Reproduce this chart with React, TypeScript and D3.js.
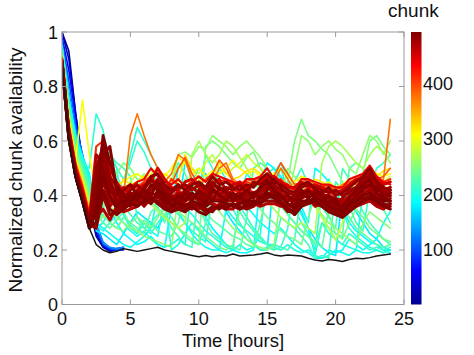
import React from "react";
import * as d3 from "d3";

// ---------- data ----------
const HOURS = [0,0.5,1,1.5,2,2.5,3,3.5,4,4.5,5,5.5,6,6.5,7,7.5,8,8.5,9,9.5,10,10.5,11,11.5,12,12.5,13,13.5,14,14.5,15,15.5,16,16.5,17,17.5,18,18.5,19,19.5,20,20.5,21,21.5,22,22.5,23,23.5,24];

const X_TICKS = [0, 5, 10, 15, 20, 25];
const Y_TICKS = [0, 0.2, 0.4, 0.6, 0.8, 1];
const Y_TICK_LABELS = ["0", "0.2", "0.4", "0.6", "0.8", "1"];
const CBAR_TICKS = [100, 200, 300, 400];
const CBAR_DOMAIN = [1, 492];

// early-only blue chunks (t = 0 .. 4.5)
const chunk5 = [1.0,0.93,0.7,0.5,0.36,0.25,0.21,0.195,0.2,0.205];
const chunk30 = [1.0,0.9,0.7,0.53,0.38,0.26,0.215,0.2,0.205,0.21];
const chunk60 = [0.98,0.86,0.68,0.54,0.4,0.27,0.22,0.2,0.2,0.2];
const chunk100 = [0.97,0.82,0.66,0.55,0.42,0.28,0.22,0.205,0.2,0.205];
const chunk130 = [0.96,0.78,0.64,0.55,0.44,0.3,0.23,0.21,0.205,0.21];

// full chunks (t = 0 .. 24)
const chunk175 = [0.95,0.76,0.62,0.545,0.48, 0.27,0.26,0.24,0.22,0.26,0.3,0.34,0.32,0.3,0.28, 0.33,0.34,0.36,0.52,0.5,0.46,0.48,0.42,0.38,0.34, 0.3,0.27,0.24,0.22,0.2,0.2,0.48,0.52,0.46,0.4, 0.34,0.28,0.24,0.21,0.19,0.18,0.4,0.38,0.34,0.3, 0.26,0.24,0.21,0.2];
const chunk185 = [0.95,0.755,0.615,0.54,0.48, 0.28,0.3,0.35,0.3,0.26,0.24,0.22,0.23,0.25,0.22, 0.21,0.36,0.5,0.53,0.45,0.38,0.32,0.28,0.25,0.22, 0.2,0.19,0.19,0.2,0.45,0.52,0.5,0.47,0.44,0.4, 0.36,0.3,0.5,0.48,0.45,0.42,0.36,0.3,0.27,0.25, 0.23,0.22,0.2,0.19];
const chunk190 = [0.945,0.75,0.61,0.535,0.47, 0.3,0.28,0.26,0.24,0.22,0.21,0.23,0.25,0.28,0.4, 0.42,0.38,0.34,0.3,0.26,0.23,0.21,0.2,0.2,0.35, 0.44,0.4,0.36,0.33,0.3,0.28,0.26,0.28,0.25,0.22, 0.2,0.19,0.17,0.17,0.2,0.19,0.2,0.24,0.22,0.2, 0.22,0.24,0.3,0.34];
const chunk195 = [0.945,0.745,0.605,0.53,0.47, 0.3,0.38,0.55,0.5,0.33,0.28,0.26,0.3,0.27,0.25, 0.4,0.2,0.22,0.26,0.3,0.27,0.24,0.22,0.2,0.19, 0.2,0.22,0.2,0.21,0.26,0.48,0.5,0.46,0.4,0.38, 0.33,0.28,0.18,0.17,0.18,0.2,0.19,0.18,0.2,0.19, 0.19,0.2,0.19,0.2];
const chunk200 = [0.94,0.74,0.6,0.525,0.46, 0.29,0.27,0.3,0.33,0.3,0.27,0.25,0.27,0.24,0.22, 0.21,0.22,0.24,0.22,0.45,0.5,0.47,0.42,0.38,0.35, 0.32,0.29,0.27,0.25,0.23,0.22,0.21,0.2,0.22,0.2, 0.19,0.2,0.18,0.3,0.26,0.24,0.22,0.21,0.2,0.42, 0.47,0.44,0.4,0.36];
const chunk205 = [0.94,0.735,0.595,0.52,0.5, 0.7,0.64,0.52,0.47,0.42,0.55,0.65,0.6,0.55,0.5, 0.45,0.42,0.4,0.36,0.33,0.3,0.27,0.25,0.23,0.21, 0.2,0.4,0.48,0.45,0.42,0.4,0.45,0.5,0.42,0.35, 0.3,0.26,0.2,0.42,0.46,0.4,0.35,0.28,0.25,0.23, 0.21,0.2,0.19,0.2];
const chunk210 = [0.935,0.73,0.59,0.515,0.45, 0.29,0.52,0.56,0.5,0.46,0.52,0.6,0.56,0.5,0.44, 0.4,0.36,0.33,0.3,0.27,0.25,0.23,0.4,0.5,0.46, 0.4,0.36,0.32,0.28,0.25,0.22,0.22,0.21,0.28,0.45, 0.5,0.44,0.38,0.32,0.28,0.24,0.22,0.26,0.24,0.22, 0.2,0.21,0.2,0.21];
const chunk215 = [0.935,0.725,0.585,0.51,0.44, 0.32,0.45,0.55,0.52,0.5,0.47,0.32,0.28,0.26,0.3, 0.33,0.28,0.25,0.22,0.21,0.42,0.55,0.5,0.45,0.4, 0.35,0.3,0.26,0.22,0.2,0.21,0.2,0.32,0.3,0.28, 0.25,0.22,0.17,0.18,0.17,0.45,0.42,0.36,0.3,0.27, 0.42,0.5,0.52,0.55];
const chunk220 = [0.93,0.72,0.58,0.505,0.43, 0.31,0.34,0.52,0.48,0.36,0.33,0.3,0.28,0.3,0.33, 0.35,0.32,0.28,0.25,0.23,0.22,0.3,0.47,0.44,0.41, 0.38,0.34,0.3,0.27,0.24,0.22,0.2,0.21,0.2,0.24, 0.4,0.43,0.4,0.36,0.32,0.28,0.5,0.46,0.4,0.34, 0.3,0.27,0.24,0.22];
const chunk225 = [0.93,0.715,0.575,0.5,0.42, 0.3,0.33,0.3,0.28,0.32,0.3,0.28,0.26,0.34,0.36, 0.3,0.45,0.52,0.48,0.42,0.36,0.3,0.26,0.24,0.22, 0.21,0.2,0.32,0.5,0.52,0.5,0.45,0.38,0.33,0.3, 0.27,0.25,0.22,0.3,0.28,0.26,0.25,0.5,0.52,0.5, 0.45,0.4,0.35,0.3];
const chunk230 = [0.925,0.71,0.57,0.495,0.41, 0.33,0.3,0.28,0.31,0.34,0.29,0.27,0.31,0.29,0.27, 0.26,0.25,0.3,0.42,0.4,0.37,0.34,0.31,0.29,0.27, 0.25,0.24,0.22,0.21,0.3,0.42,0.39,0.36,0.33,0.3, 0.27,0.25,0.23,0.21,0.35,0.38,0.35,0.32,0.28,0.26, 0.24,0.22,0.21,0.22];
const chunk240 = [0.925,0.705,0.565,0.49,0.4, 0.31,0.33,0.3,0.28,0.27,0.3,0.32,0.3,0.28,0.32, 0.36,0.38,0.34,0.32,0.3,0.28,0.25,0.23,0.21,0.2, 0.22,0.35,0.4,0.38,0.35,0.32,0.3,0.27,0.25,0.24, 0.22,0.32,0.4,0.38,0.33,0.26,0.24,0.3,0.35,0.32, 0.28,0.26,0.24,0.23];
const chunk245 = [0.92,0.7,0.56,0.485,0.395, 0.32,0.36,0.42,0.48,0.52,0.5,0.46,0.42,0.38,0.35, 0.33,0.3,0.28,0.26,0.24,0.22,0.58,0.6,0.58,0.55, 0.52,0.5,0.54,0.56,0.5,0.45,0.42,0.4,0.45,0.6, 0.68,0.62,0.6,0.57,0.55,0.5,0.45,0.4,0.36,0.48, 0.6,0.62,0.58,0.55];
const chunk250 = [0.92,0.7,0.555,0.48,0.39, 0.3,0.32,0.34,0.32,0.3,0.28,0.27,0.25,0.24,0.23, 0.22,0.21,0.4,0.46,0.44,0.42,0.4,0.37,0.34,0.31, 0.28,0.26,0.24,0.22,0.21,0.2,0.22,0.4,0.5,0.47, 0.44,0.4,0.36,0.33,0.3,0.28,0.26,0.24,0.22,0.3, 0.34,0.32,0.3,0.28];
const chunk255 = [0.92,0.695,0.55,0.475,0.385, 0.33,0.4,0.45,0.4,0.38,0.42,0.45,0.48,0.44,0.4, 0.37,0.45,0.55,0.56,0.54,0.58,0.57,0.62,0.6,0.58, 0.55,0.58,0.6,0.57,0.54,0.5,0.47,0.44,0.4,0.5, 0.62,0.6,0.55,0.58,0.6,0.57,0.55,0.5,0.48,0.55, 0.62,0.6,0.55,0.6];
const chunk265 = [0.915,0.69,0.545,0.47,0.38, 0.34,0.38,0.36,0.34,0.36,0.38,0.42,0.4,0.37,0.34, 0.32,0.3,0.28,0.3,0.55,0.6,0.55,0.52,0.55,0.6, 0.58,0.54,0.5,0.46,0.42,0.38,0.35,0.32,0.3,0.28, 0.3,0.28,0.26,0.52,0.58,0.6,0.58,0.55,0.52,0.5, 0.55,0.58,0.56,0.52];
const chunk280 = [0.915,0.685,0.54,0.465,0.37, 0.35,0.42,0.46,0.44,0.42,0.45,0.48,0.46,0.44,0.42, 0.45,0.48,0.5,0.52,0.5,0.48,0.52,0.55,0.5,0.48, 0.5,0.52,0.55,0.52,0.5,0.48,0.46,0.44,0.42,0.45, 0.47,0.44,0.38,0.32,0.28,0.235,0.3,0.42,0.45,0.48, 0.46,0.44,0.45,0.47];
const chunk305 = [0.91,0.68,0.535,0.75,0.55, 0.4,0.45,0.46,0.44,0.45,0.47,0.48,0.46,0.48,0.5, 0.47,0.5,0.54,0.52,0.48,0.5,0.47,0.49,0.48,0.5, 0.53,0.5,0.48,0.49,0.47,0.46,0.48,0.5,0.47,0.45, 0.47,0.46,0.45,0.44,0.45,0.43,0.44,0.46,0.47,0.48, 0.5,0.48,0.47,0.48];
const chunk320 = [0.91,0.675,0.53,0.455,0.35, 0.38,0.42,0.44,0.42,0.46,0.44,0.45,0.47,0.45,0.46, 0.48,0.46,0.45,0.55,0.5,0.46,0.45,0.47,0.52,0.48, 0.46,0.47,0.49,0.5,0.48,0.45,0.44,0.46,0.44,0.43, 0.45,0.44,0.46,0.45,0.43,0.42,0.44,0.45,0.46,0.47, 0.48,0.47,0.49,0.5];
const chunk375 = [0.905,0.665,0.52,0.44,0.34, 0.5,0.55,0.48,0.42,0.4,0.62,0.7,0.62,0.55,0.5, 0.45,0.48,0.55,0.53,0.46,0.44,0.43,0.45,0.5,0.52, 0.46,0.44,0.43,0.45,0.44,0.46,0.45,0.5,0.46,0.42, 0.44,0.43,0.42,0.44,0.43,0.42,0.44,0.45,0.44,0.46, 0.45,0.44,0.46,0.68];
const chunk390 = [0.905,0.66,0.515,0.435,0.335, 0.55,0.5,0.44,0.42,0.43,0.44,0.42,0.44,0.46,0.44, 0.42,0.44,0.5,0.54,0.48,0.44,0.46,0.48,0.53,0.5, 0.45,0.44,0.46,0.45,0.47,0.45,0.47,0.52,0.48,0.44, 0.45,0.46,0.44,0.43,0.44,0.42,0.43,0.45,0.46,0.48, 0.47,0.46,0.47,0.5];
const chunk410 = [0.9,0.655,0.51,0.43,0.33, 0.58,0.6,0.5,0.45,0.42,0.44,0.43,0.45,0.47,0.44, 0.42,0.46,0.44,0.42,0.44,0.45,0.43,0.47,0.45,0.46, 0.44,0.43,0.45,0.44,0.46,0.48,0.44,0.46,0.43,0.42, 0.44,0.45,0.43,0.42,0.41,0.4,0.42,0.44,0.46,0.47, 0.46,0.44,0.45,0.46];
const chunk425 = [0.9,0.65,0.505,0.425,0.325, 0.5,0.56,0.46,0.4,0.38,0.4,0.42,0.4,0.43,0.45, 0.41,0.39,0.42,0.4,0.43,0.41,0.39,0.44,0.42,0.4, 0.42,0.41,0.43,0.41,0.42,0.44,0.43,0.41,0.39,0.38, 0.41,0.43,0.41,0.4,0.39,0.38,0.38,0.4,0.42,0.44, 0.47,0.43,0.42,0.43];
const chunk440 = [0.9,0.645,0.5,0.42,0.32, 0.36,0.53,0.49,0.45,0.41,0.43,0.45,0.46,0.5,0.47, 0.45,0.44,0.46,0.43,0.45,0.47,0.45,0.48,0.47,0.46, 0.45,0.43,0.46,0.46,0.47,0.5,0.46,0.45,0.44,0.42, 0.46,0.46,0.45,0.44,0.44,0.43,0.43,0.46,0.47,0.48, 0.51,0.47,0.45,0.44];
const chunk452 = [0.9,0.64,0.495,0.415,0.31, 0.42,0.57,0.44,0.41,0.43,0.4,0.42,0.44,0.45,0.5, 0.46,0.43,0.42,0.45,0.46,0.43,0.41,0.44,0.46,0.42, 0.44,0.45,0.43,0.44,0.45,0.47,0.47,0.45,0.43,0.43, 0.45,0.43,0.44,0.43,0.42,0.41,0.42,0.44,0.46,0.45, 0.49,0.46,0.44,0.45];
const chunk462 = [0.895,0.635,0.49,0.41,0.31, 0.38,0.48,0.36,0.39,0.38,0.39,0.4,0.37,0.4,0.37, 0.4,0.4,0.38,0.38,0.39,0.4,0.38,0.4,0.39,0.38, 0.38,0.39,0.38,0.4,0.39,0.4,0.42,0.41,0.39,0.38, 0.4,0.41,0.39,0.4,0.4,0.39,0.38,0.39,0.41,0.4, 0.43,0.39,0.4,0.41];
const chunk466 = [0.895,0.632,0.49,0.405,0.305, 0.32,0.35,0.31,0.36,0.34,0.35,0.36,0.39,0.37,0.41, 0.38,0.36,0.39,0.37,0.36,0.35,0.37,0.37,0.36,0.35, 0.35,0.38,0.36,0.37,0.36,0.37,0.37,0.36,0.36,0.33, 0.36,0.39,0.36,0.37,0.38,0.37,0.32,0.35,0.36,0.37, 0.38,0.36,0.35,0.37];
const chunk470 = [0.895,0.63,0.487,0.4,0.3, 0.55,0.52,0.42,0.38,0.4,0.41,0.37,0.4,0.42,0.43, 0.4,0.38,0.41,0.4,0.43,0.41,0.39,0.41,0.41,0.39, 0.4,0.41,0.4,0.39,0.41,0.43,0.41,0.39,0.38,0.39, 0.41,0.42,0.4,0.41,0.39,0.38,0.37,0.4,0.41,0.43, 0.45,0.42,0.41,0.4];
const chunk474 = [0.89,0.63,0.485,0.4,0.3, 0.33,0.45,0.38,0.37,0.35,0.37,0.39,0.36,0.39,0.39, 0.39,0.37,0.35,0.39,0.4,0.38,0.36,0.39,0.38,0.4, 0.39,0.37,0.39,0.37,0.4,0.41,0.39,0.38,0.36,0.37, 0.39,0.4,0.41,0.39,0.38,0.36,0.35,0.38,0.39,0.41, 0.42,0.4,0.38,0.39];
const chunk476 = [0.89,0.625,0.482,0.395,0.3, 0.48,0.55,0.43,0.38,0.41,0.39,0.42,0.4,0.43,0.44, 0.42,0.4,0.39,0.42,0.4,0.39,0.41,0.43,0.4,0.42, 0.4,0.38,0.4,0.41,0.42,0.44,0.43,0.4,0.38,0.4, 0.42,0.4,0.42,0.4,0.39,0.37,0.39,0.42,0.43,0.45, 0.47,0.45,0.41,0.42];
const chunk478 = [0.89,0.625,0.48,0.395,0.295, 0.4,0.6,0.47,0.43,0.39,0.42,0.44,0.41,0.43,0.46, 0.43,0.41,0.43,0.44,0.42,0.44,0.42,0.45,0.42,0.43, 0.42,0.44,0.41,0.45,0.44,0.46,0.44,0.42,0.41,0.4, 0.43,0.44,0.43,0.42,0.41,0.42,0.4,0.41,0.43,0.46, 0.48,0.44,0.42,0.43];
const chunk481 = [0.89,0.62,0.48,0.392,0.295, 0.28,0.4,0.33,0.34,0.37,0.36,0.38,0.37,0.38,0.38, 0.36,0.35,0.38,0.36,0.35,0.37,0.35,0.34,0.37,0.36, 0.37,0.36,0.35,0.36,0.38,0.38,0.38,0.37,0.34,0.35, 0.38,0.37,0.38,0.37,0.36,0.35,0.33,0.35,0.37,0.38, 0.39,0.37,0.36,0.37];
const chunk483 = [0.885,0.62,0.478,0.39,0.29, 0.4,0.58,0.45,0.37,0.39,0.41,0.39,0.42,0.46,0.43, 0.39,0.38,0.4,0.39,0.39,0.41,0.38,0.44,0.43,0.41, 0.39,0.4,0.42,0.39,0.43,0.46,0.41,0.39,0.4,0.36, 0.39,0.41,0.4,0.38,0.37,0.36,0.35,0.37,0.4,0.43, 0.44,0.41,0.39,0.4];
const chunk484 = [0.885,0.62,0.475,0.39,0.29, 0.5,0.58,0.45,0.4,0.42,0.44,0.4,0.43,0.47,0.48, 0.44,0.42,0.44,0.42,0.44,0.45,0.43,0.47,0.44,0.45, 0.43,0.42,0.44,0.43,0.46,0.48,0.45,0.44,0.42,0.41, 0.44,0.45,0.42,0.41,0.43,0.4,0.41,0.43,0.45,0.47, 0.5,0.45,0.43,0.42];
const chunk486 = [0.885,0.615,0.475,0.385,0.29, 0.45,0.5,0.4,0.35,0.36,0.38,0.36,0.38,0.41,0.4, 0.37,0.34,0.36,0.35,0.37,0.36,0.34,0.36,0.35,0.37, 0.36,0.35,0.37,0.38,0.37,0.39,0.4,0.38,0.35,0.34, 0.37,0.38,0.37,0.36,0.35,0.34,0.33,0.36,0.38,0.39, 0.4,0.38,0.37,0.36];
const chunk488 = [0.885,0.615,0.472,0.385,0.285, 0.3,0.55,0.58,0.42,0.37,0.4,0.38,0.42,0.4,0.45, 0.41,0.39,0.37,0.41,0.38,0.42,0.4,0.38,0.43,0.41, 0.38,0.4,0.37,0.41,0.39,0.42,0.46,0.43,0.4,0.38, 0.42,0.39,0.41,0.4,0.37,0.39,0.34,0.37,0.4,0.42, 0.44,0.43,0.4,0.41];
const chunk490 = [0.88,0.61,0.47,0.38,0.285, 0.35,0.62,0.52,0.44,0.4,0.38,0.41,0.39,0.44,0.42, 0.38,0.36,0.4,0.38,0.41,0.39,0.37,0.42,0.4,0.38, 0.41,0.39,0.42,0.4,0.43,0.45,0.42,0.4,0.37,0.36, 0.4,0.42,0.39,0.38,0.4,0.37,0.36,0.39,0.42,0.44, 0.46,0.41,0.39,0.38];
const chunk491 = [0.88,0.61,0.47,0.38,0.28, 0.3,0.42,0.35,0.33,0.35,0.37,0.36,0.38,0.39,0.37, 0.35,0.34,0.35,0.34,0.36,0.34,0.33,0.35,0.36,0.35, 0.37,0.35,0.36,0.37,0.39,0.4,0.39,0.37,0.35,0.33, 0.36,0.37,0.38,0.36,0.34,0.33,0.32,0.34,0.36,0.38, 0.39,0.38,0.36,0.35];
const chunk492 = [0.88,0.61,0.47,0.38,0.28, 0.34,0.47,0.4,0.36,0.38,0.38,0.4,0.39,0.37,0.42, 0.4,0.36,0.37,0.36,0.38,0.37,0.36,0.38,0.38,0.37, 0.36,0.37,0.38,0.38,0.37,0.41,0.4,0.4,0.37,0.35, 0.38,0.38,0.39,0.38,0.36,0.35,0.34,0.37,0.38,0.4, 0.41,0.39,0.38,0.38];

// lower envelope (black)
const minimum = [0.88,0.6,0.46,0.37,0.28, 0.22,0.2,0.19,0.195,0.205, 0.2,0.195,0.2,0.205,0.21, 0.2,0.195,0.19,0.185,0.18, 0.175,0.18,0.175,0.18,0.178, 0.185,0.178,0.18,0.182,0.185, 0.19,0.182,0.178,0.182,0.18, 0.178,0.17,0.163,0.16,0.165, 0.162,0.158,0.165,0.17,0.168, 0.172,0.178,0.182,0.185];

const CHUNK_IDS = [5,30,60,100,130,175,185,190,195,200,205,210,215,220,225,230,240,245,250,255,265,280,305,320,375,390,410,425,440,452,462,466,470,474,476,478,481,483,484,486,488,490,491,492];
const CHUNK_VALUES = [chunk5,chunk30,chunk60,chunk100,chunk130,chunk175,chunk185,chunk190,chunk195,chunk200,chunk205,chunk210,chunk215,chunk220,chunk225,chunk230,chunk240,chunk245,chunk250,chunk255,chunk265,chunk280,chunk305,chunk320,chunk375,chunk390,chunk410,chunk425,chunk440,chunk452,chunk462,chunk466,chunk470,chunk474,chunk476,chunk478,chunk481,chunk483,chunk484,chunk486,chunk488,chunk490,chunk491,chunk492];

// ---------- layout ----------
const W = 474, H = 355;
const L = 62, R = 404, T = 32, B = 304.5;
const CB_X = 411, CB_W = 10.5;
const FONT = "'Liberation Sans', Arial, Helvetica, sans-serif";

const JET_STOPS = [0, 0.125, 0.375, 0.625, 0.875, 1];
const JET_COLORS = ["#00008f", "#0000ff", "#00ffff", "#ffff00", "#ff0000", "#800000"];

export default function App() {
  const x = d3.scaleLinear().domain([0, 25]).range([L, R]);
  const y = d3.scaleLinear().domain([0, 1]).range([B, T]);
  const cb = d3.scaleLinear().domain(CBAR_DOMAIN).range([B, T]);
  const jet = d3.scaleLinear<string>().domain(JET_STOPS).range(JET_COLORS).interpolate(d3.interpolateRgb).clamp(true);
  const color = (c: number) => jet((c - CBAR_DOMAIN[0]) / (CBAR_DOMAIN[1] - CBAR_DOMAIN[0]));
  const line = d3.line<number>().x((_, i) => x(HOURS[i])).y((d) => y(d));

  const axisColor = "#9a9a9a";
  const tickLen = 5;

  return (
    <svg width={W} height={H} style={{ position: "absolute", left: 0, top: 0, background: "#fff" }}>
      <defs>
        <clipPath id="plot"><rect x={L} y={T - 1} width={R - L} height={B - T + 1} /></clipPath>
        <linearGradient id="jet" x1="0" y1="1" x2="0" y2="0">
          {JET_STOPS.map((s, i) => <stop key={i} offset={s} stopColor={JET_COLORS[i]} />)}
        </linearGradient>
      </defs>
      <rect x={L} y={T} width={R - L} height={B - T} fill="#fff" />
      <g clipPath="url(#plot)" fill="none" strokeLinejoin="round" strokeLinecap="round">
        {CHUNK_IDS.map((c, k) => (
          <path key={c} d={line(CHUNK_VALUES[k]) || ""} stroke={color(c)}
            strokeWidth={c >= 450 ? 2.9 : c >= 400 ? 2.1 : 1.6} />
        ))}
        <path d={line(minimum) || ""} stroke="#151515" strokeWidth={1.5} />
      </g>
      {/* axes box */}
      <rect x={L} y={T} width={R - L} height={B - T} fill="none" stroke={axisColor} strokeWidth={1} />
      {X_TICKS.map((t) => (
        <g key={"x" + t}>
          <line x1={x(t)} x2={x(t)} y1={B} y2={B - tickLen} stroke={axisColor} />
          <line x1={x(t)} x2={x(t)} y1={T} y2={T + tickLen} stroke={axisColor} />
          <text x={x(t)} y={324.5} textAnchor="middle" fontFamily={FONT} fontSize={18} fill="#111">{t}</text>
        </g>
      ))}
      {Y_TICKS.map((t, i) => (
        <g key={"y" + t}>
          <line x1={L} x2={L + tickLen} y1={y(t)} y2={y(t)} stroke={axisColor} />
          <line x1={R} x2={R - tickLen} y1={y(t)} y2={y(t)} stroke={axisColor} />
          <text x={58} y={y(t) + 6.5} textAnchor="end" fontFamily={FONT} fontSize={18} fill="#111">{Y_TICK_LABELS[i]}</text>
        </g>
      ))}
      <text x={233} y={347} textAnchor="middle" fontFamily={FONT} fontSize={18.5} fill="#111">Time [hours]</text>
      <text transform={`translate(22,170) rotate(-90)`} textAnchor="middle" fontFamily={FONT} fontSize={19} fill="#111">Normalized chunk availability</text>
      {/* colorbar */}
      <rect x={CB_X} y={T} width={CB_W} height={B - T} fill="url(#jet)" />
      {CBAR_TICKS.map((t) => (
        <text key={"c" + t} x={423} y={cb(t) + 6.5} fontFamily={FONT} fontSize={18} fill="#111">{t}</text>
      ))}
      <text x={388} y={17} fontFamily={FONT} fontSize={19} fill="#111">chunk</text>
    </svg>
  );
}
